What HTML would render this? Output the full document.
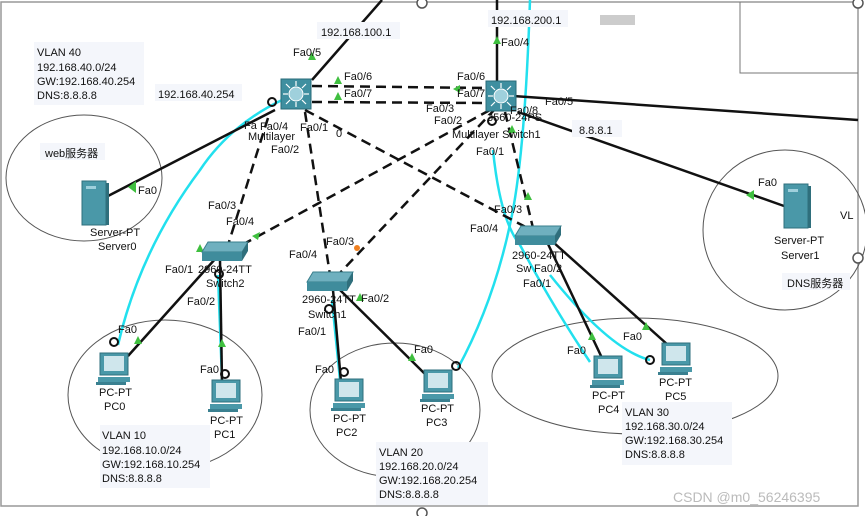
<!DOCTYPE html>
<html><head><meta charset="utf-8"><style>
body{margin:0;background:#fff}
svg{display:block}
text{font-family:"Liberation Sans","Noto Sans CJK SC",sans-serif;font-size:11px;fill:#111}
.lb{fill:#f4f6fb}
</style></head><body>
<svg width="865" height="516" viewBox="0 0 865 516">
<defs>
<g id="pc">
<rect x="2" y="0" width="28" height="22" fill="#4a98a8" stroke="#2f6f7c"/>
<rect x="6" y="3" width="20" height="15" fill="#cfe6ec"/>
<rect x="0" y="24" width="32" height="5" fill="#4a98a8"/>
<rect x="-2" y="29" width="30" height="3" fill="#3a8090"/>
</g>
<g id="sw">
<polygon points="6,0 46,0 40,10 0,10" fill="#6fb0bf" stroke="#3a7f8c"/>
<rect x="0" y="10" width="40" height="9" fill="#3f8c9c"/>
<polygon points="40,10 46,0 46,9 40,19" fill="#2f6f7c"/>
</g>
<g id="mls">
<rect x="0" y="0" width="30" height="30" fill="#3f8fa0" stroke="#2a6b78"/>
<circle cx="15" cy="15" r="7" fill="#9fd0dc" stroke="#fff"/>
<g stroke="#fff" stroke-width="1.2"><line x1="15" y1="2" x2="15" y2="7"/><line x1="15" y1="23" x2="15" y2="28"/><line x1="2" y1="15" x2="7" y2="15"/><line x1="23" y1="15" x2="28" y2="15"/><line x1="5" y1="5" x2="9" y2="9"/><line x1="25" y1="25" x2="21" y2="21"/><line x1="25" y1="5" x2="21" y2="9"/><line x1="5" y1="25" x2="9" y2="21"/></g>
</g>
<g id="srv">
<rect x="0" y="0" width="24" height="44" fill="#4a98a8" stroke="#2f6f7c"/>
<rect x="24" y="2" width="3" height="42" fill="#2f6f7c"/>
<rect x="4" y="5" width="10" height="3" fill="#9fd0dc"/>
</g>
</defs>

<!-- frame -->
<rect x="1" y="2" width="857" height="504" fill="none" stroke="#999" stroke-width="1.5"/>
<polyline points="740,2 740,73 858,73" fill="none" stroke="#777"/>

<!-- ellipses -->
<g fill="none" stroke="#555" stroke-width="1">
<ellipse cx="84" cy="178" rx="78" ry="63"/>
<ellipse cx="165" cy="395" rx="97" ry="75"/>
<ellipse cx="395" cy="410" rx="85" ry="67"/>
<ellipse cx="635" cy="376" rx="143" ry="58"/>
<ellipse cx="785" cy="230" rx="82" ry="80"/>
</g>

<!-- cyan -->
<g fill="none" stroke="#22e0ee" stroke-width="2.5">
<path d="M282,100 Q230,125 200,170 Q140,250 118,345"/>
<path d="M530,0 Q525,150 512,215 Q495,300 458,368"/>
<path d="M493,150 Q500,220 520,245 Q555,310 590,362"/>
<path d="M550,275 Q610,350 650,360"/>
<path d="M218,275 L222,380"/>
<path d="M332,300 L340,380"/>
</g>

<!-- solid black -->
<g stroke="#111" stroke-width="2.5" fill="none">
<line x1="312" y1="80" x2="382" y2="0"/>
<line x1="497" y1="82" x2="497" y2="0"/>
<line x1="513" y1="96" x2="858" y2="120"/>
<line x1="518" y1="112" x2="784" y2="206"/>
<line x1="275" y1="110" x2="108" y2="196"/>
<line x1="216" y1="258" x2="128" y2="356"/>
<line x1="220" y1="260" x2="222" y2="382"/>
<line x1="333" y1="290" x2="341" y2="382"/>
<line x1="340" y1="290" x2="425" y2="374"/>
<line x1="548" y1="244" x2="602" y2="358"/>
<line x1="553" y1="242" x2="668" y2="345"/>
</g>
<!-- dashed -->
<g stroke="#111" stroke-width="2.5" stroke-dasharray="10,6" fill="none">
<line x1="312" y1="86" x2="488" y2="88"/>
<line x1="312" y1="102" x2="488" y2="103"/>
<line x1="305" y1="110" x2="535" y2="232"/>
<line x1="268" y1="118" x2="228" y2="245"/>
<line x1="305" y1="112" x2="330" y2="275"/>
<line x1="490" y1="110" x2="240" y2="246"/>
<line x1="496" y1="108" x2="338" y2="275"/>
<line x1="505" y1="112" x2="533" y2="228"/>
</g>

<!-- green triangles -->
<g fill="#3fbf3f">
<polygon points="128,187 136,181 136,193"/>
<polygon points="746,195 754,190 754,200"/>
<polygon points="308,60 316,60 312,52"/>
<polygon points="493,44 501,44 497,36"/>
<polygon points="334,84 342,84 338,76"/>
<polygon points="334,100 342,100 338,92"/>
<polygon points="453,89 460,85 460,93"/>
<polygon points="252,236 260,232 258,240"/>
<polygon points="134,344 142,344 138,336"/>
<polygon points="218,347 226,347 222,339"/>
<polygon points="408,361 416,361 412,353"/>
<polygon points="196,252 204,252 200,244"/>
<polygon points="356,301 364,301 360,293"/>
<polygon points="588,340 596,340 592,332"/>
<polygon points="642,330 650,330 646,322"/>
<polygon points="508,133 516,133 512,125"/>
<polygon points="524,200 532,200 528,192"/>
</g>
<circle cx="357" cy="248" r="3" fill="#f08020"/>
<g fill="none" stroke="#111" stroke-width="2">
<circle cx="114" cy="342" r="4"/><circle cx="225" cy="374" r="4"/>
<circle cx="344" cy="372" r="4"/><circle cx="456" cy="366" r="4"/>
<circle cx="650" cy="360" r="4"/><circle cx="272" cy="102" r="4"/>
<circle cx="492" cy="121" r="4"/><circle cx="219" cy="274" r="4"/><circle cx="329" cy="309" r="4"/>
</g>

<!-- devices -->
<use href="#mls" x="281" y="79"/>
<use href="#mls" x="486" y="81"/>
<use href="#sw" x="202" y="242"/>
<use href="#sw" x="307" y="272"/>
<use href="#sw" x="515" y="226"/>
<use href="#srv" x="82" y="181"/>
<use href="#srv" x="784" y="184"/>
<use href="#pc" x="98" y="353"/>
<use href="#pc" x="210" y="380"/>
<use href="#pc" x="333" y="379"/>
<use href="#pc" x="422" y="370"/>
<use href="#pc" x="592" y="356"/>
<use href="#pc" x="660" y="343"/>

<!-- label boxes -->
<rect class="lb" x="34" y="42" width="110" height="63"/>
<rect class="lb" x="155" y="84" width="87" height="17"/>
<rect class="lb" x="317" y="22" width="83" height="17"/>
<rect class="lb" x="488" y="10" width="80" height="17"/>
<rect class="lb" x="572" y="120" width="50" height="17"/>
<rect class="lb" x="40" y="143" width="65" height="17"/>
<rect class="lb" x="782" y="273" width="68" height="17"/>
<rect class="lb" x="100" y="425" width="110" height="63"/>
<rect class="lb" x="376" y="442" width="112" height="63"/>
<rect class="lb" x="622" y="402" width="110" height="63"/>
<rect x="600" y="15" width="35" height="10" fill="#ccc"/>

<!-- text -->
<text x="37" y="56">VLAN 40</text>
<text x="37" y="71">192.168.40.0/24</text>
<text x="37" y="85">GW:192.168.40.254</text>
<text x="37" y="99">DNS:8.8.8.8</text>
<text x="158" y="98">192.168.40.254</text>
<text x="321" y="36">192.168.100.1</text>
<text x="491" y="24">192.168.200.1</text>
<text x="579" y="134">8.8.8.1</text>
<text x="45" y="157">web服务器</text>
<text x="787" y="287">DNS服务器</text>
<text x="840" y="219">VL</text>
<text x="102" y="439">VLAN 10</text>
<text x="102" y="454">192.168.10.0/24</text>
<text x="102" y="468">GW:192.168.10.254</text>
<text x="102" y="482">DNS:8.8.8.8</text>
<text x="379" y="456">VLAN 20</text>
<text x="379" y="470">192.168.20.0/24</text>
<text x="379" y="484">GW:192.168.20.254</text>
<text x="379" y="498">DNS:8.8.8.8</text>
<text x="625" y="416">VLAN 30</text>
<text x="625" y="430">192.168.30.0/24</text>
<text x="625" y="444">GW:192.168.30.254</text>
<text x="625" y="458">DNS:8.8.8.8</text>

<text x="293" y="56">Fa0/5</text>
<text x="501" y="46">Fa0/4</text>
<text x="344" y="80">Fa0/6</text>
<text x="344" y="97">Fa0/7</text>
<text x="457" y="80">Fa0/6</text>
<text x="457" y="97">Fa0/7</text>
<text x="426" y="112">Fa0/3</text>
<text x="434" y="124">Fa0/2</text>
<text x="510" y="114">Fa0/8</text>
<text x="545" y="105">Fa0/5</text>
<text x="452" y="138">Multilayer Switch1</text>
<text x="487" y="121">3560-24PS</text>
<text x="244" y="129">Fa</text>
<text x="260" y="130">Fa0/4</text>
<text x="300" y="131">Fa0/1</text>
<text x="336" y="137">0</text>
<text x="248" y="140">Multilayer</text>
<text x="271" y="153">Fa0/2</text>
<text x="476" y="155">Fa0/1</text>
<text x="208" y="209">Fa0/3</text>
<text x="226" y="225">Fa0/4</text>
<text x="326" y="245">Fa0/3</text>
<text x="289" y="258">Fa0/4</text>
<text x="494" y="213">Fa0/3</text>
<text x="470" y="232">Fa0/4</text>
<text x="138" y="194">Fa0</text>
<text x="758" y="186">Fa0</text>
<text x="90" y="236">Server-PT</text>
<text x="98" y="250">Server0</text>
<text x="774" y="244">Server-PT</text>
<text x="781" y="259">Server1</text>
<text x="165" y="273">Fa0/1</text>
<text x="198" y="273">2960-24TT</text>
<text x="206" y="287">Switch2</text>
<text x="187" y="305">Fa0/2</text>
<text x="302" y="303">2960-24TT</text>
<text x="308" y="318">Switch1</text>
<text x="361" y="302">Fa0/2</text>
<text x="298" y="335">Fa0/1</text>
<text x="512" y="259">2960-24TT</text>
<text x="516" y="272">Sw</text>
<text x="534" y="272">Fa0/2</text>
<text x="523" y="287">Fa0/1</text>
<text x="118" y="333">Fa0</text>
<text x="200" y="373">Fa0</text>
<text x="315" y="373">Fa0</text>
<text x="414" y="353">Fa0</text>
<text x="567" y="354">Fa0</text>
<text x="623" y="340">Fa0</text>
<text x="99" y="396">PC-PT</text>
<text x="104" y="410">PC0</text>
<text x="210" y="424">PC-PT</text>
<text x="214" y="438">PC1</text>
<text x="333" y="422">PC-PT</text>
<text x="336" y="436">PC2</text>
<text x="421" y="412">PC-PT</text>
<text x="426" y="426">PC3</text>
<text x="592" y="399">PC-PT</text>
<text x="598" y="413">PC4</text>
<text x="659" y="386">PC-PT</text>
<text x="665" y="400">PC5</text>
<text x="673" y="502" style="font-size:14px;fill:#bbb">CSDN @m0_56246395</text>

<g fill="#fff" stroke="#555" stroke-width="1.5">
<circle cx="422" cy="3" r="5"/><circle cx="858" cy="3" r="5"/>
<circle cx="858" cy="258" r="5"/><circle cx="422" cy="513" r="5"/>
</g>
</svg>
</body></html>
